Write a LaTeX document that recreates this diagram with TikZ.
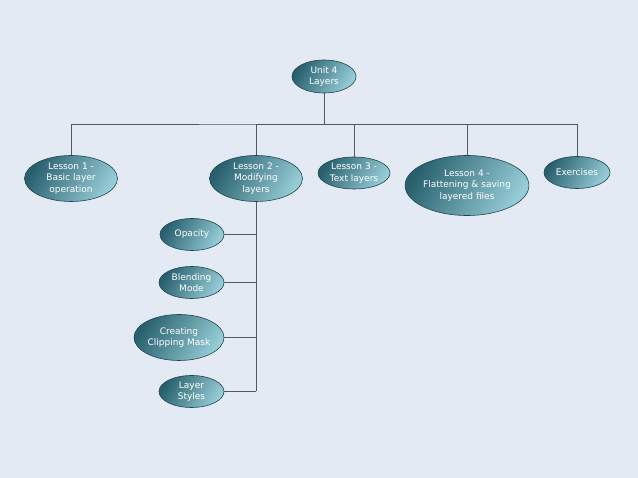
\documentclass[tikz,border=0pt]{standalone}
\usepackage{fontspec}
\setmainfont{DejaVu Sans}
\definecolor{bg}{RGB}{228,234,244}
\definecolor{tdark}{RGB}{40,96,110}
\definecolor{tlight}{RGB}{150,204,214}
\definecolor{tline}{RGB}{30,70,82}
\definecolor{conn}{RGB}{80,88,98}
\begin{document}
\begin{tikzpicture}[x=1pt,y=-1pt,
  bubble/.style={ellipse, draw=tline, line width=0.6pt, left color=tdark, right color=tlight, shading angle=60,
    text=white, font=\fontsize{9}{11.4}\selectfont, align=center, inner sep=0pt},
  conn/.style={draw=conn, line width=0.7pt}]
\usetikzlibrary{shapes.geometric}
\fill[bg] (0,0) rectangle (638,478);
\useasboundingbox (0,0) rectangle (638,478);
\node[bubble, minimum width=64pt, minimum height=33pt] (u4) at (324,76.5) {Unit 4\\Layers};
\node[bubble, minimum width=93pt, minimum height=46pt] (l1) at (71,178.5) {Lesson 1 -\\Basic layer\\operation};
\node[bubble, minimum width=93pt, minimum height=46pt] (l2) at (256,178.5) {Lesson 2 -\\Modifying\\layers};
\node[bubble, minimum width=72pt, minimum height=32pt] (l3) at (354,173) {Lesson 3 -\\Text layers};
\node[bubble, minimum width=122pt, minimum height=60pt] (l4) at (467,185.5) {Lesson 4 -\\Flattening \& saving\\layered files};
\node[bubble, minimum width=66pt, minimum height=32pt] (ex) at (577,172.5) {Exercises};
\node[bubble, minimum width=64pt, minimum height=32pt] (op) at (192,234.5) {Opacity};
\node[bubble, minimum width=65pt, minimum height=32pt] (bm) at (191.5,282.5) {Blending\\Mode};
\node[bubble, minimum width=90pt, minimum height=46pt] (cm) at (179,337.5) {Creating\\Clipping Mask};
\node[bubble, minimum width=65pt, minimum height=32pt] (ls) at (191.5,391.5) {Layer\\Styles};
\coordinate (bus) at (324,124);
\coordinate (s2) at (256,391.5);
\draw[conn] (u4.south) -- (bus);
\draw[conn] (l1.north) |- (bus) -| (ex.north);
\draw[conn] (bus) -| (l2.north);
\draw[conn] (bus) -| (l3.north);
\draw[conn] (bus) -| (l4.north);
\draw[conn] (l2.south) -- (s2);
\draw[conn] (op.east) -- (op.east -| s2);
\draw[conn] (bm.east) -- (bm.east -| s2);
\draw[conn] (cm.east) -- (cm.east -| s2);
\draw[conn] (ls.east) -- (s2);
\end{tikzpicture}
\end{document}
